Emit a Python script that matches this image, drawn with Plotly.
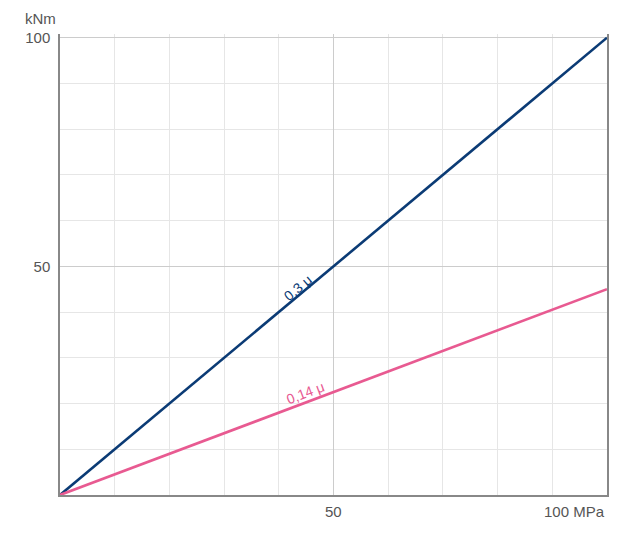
import plotly.graph_objects as go

pressure = [0, 100]
torque_03 = [0, 100]
torque_014 = [0, 45]

x_tick_vals = [50, 100]
x_tick_text = ["50", "100 MPa"]
y_tick_vals = [50, 100]
y_tick_text = ["50", "100"]
minor_vals = [10, 20, 30, 40, 60, 70, 80, 90]

BLUE = "#0b3b75"
PINK = "#e85a91"
TXT = "#555555"
FONT = "Liberation Sans, Arial, sans-serif"

fig = go.Figure()
fig.add_trace(go.Scatter(x=pressure, y=torque_03, mode="lines",
                         line=dict(color=BLUE, width=2.6), hoverinfo="skip"))
fig.add_trace(go.Scatter(x=pressure, y=torque_014, mode="lines",
                         line=dict(color=PINK, width=2.6), hoverinfo="skip"))

annotations = []
for v, t in zip(x_tick_vals, x_tick_text):
    annotations.append(dict(x=v, y=0, xref="x", yref="y", text=t, showarrow=False,
                            xanchor="center" if v != 100 else "right",
                            yanchor="top", yshift=-6,
                            font=dict(family=FONT, size=15, color=TXT)))
annotations.append(dict(x=0, y=1, xref="paper", yref="paper", text="kNm", showarrow=False,
                        xanchor="right", yanchor="bottom", xshift=-2, yshift=5,
                        font=dict(family=FONT, size=15, color=TXT)))
annotations.append(dict(x=44, y=44, xref="x", yref="y", text="0,3 μ", showarrow=False,
                        textangle=-40, xshift=-3, yshift=6,
                        font=dict(family=FONT, size=14, color=BLUE)))
annotations.append(dict(x=45, y=45 * 0.45, xref="x", yref="y", text="0,14 μ", showarrow=False,
                        textangle=-20.6, xshift=-1, yshift=9,
                        font=dict(family=FONT, size=14, color=PINK)))

fig.update_layout(
    width=640, height=533,
    margin=dict(l=52, r=41, t=26, b=46, autoexpand=False),
    plot_bgcolor="white", paper_bgcolor="white",
    showlegend=False,
    annotations=annotations,
    xaxis=dict(range=[0, 100], tickvals=x_tick_vals, showticklabels=False,
               showgrid=True, gridcolor="#cccccc", gridwidth=1,
               minor=dict(tickvals=minor_vals, showgrid=True, gridcolor="#e6e6e6", gridwidth=1),
               showline=True, linecolor="#888888", linewidth=1.5, mirror=False,
               zeroline=False, fixedrange=True, automargin=False),
    yaxis=dict(range=[0, 100.8], tickvals=y_tick_vals, ticktext=y_tick_text,
               tickfont=dict(family=FONT, size=15, color=TXT),
               ticklabelstandoff=5,
               showgrid=True, gridcolor="#cccccc", gridwidth=1,
               minor=dict(tickvals=minor_vals, showgrid=True, gridcolor="#e6e6e6", gridwidth=1),
               showline=True, linecolor="#888888", linewidth=1.5, mirror=True,
               zeroline=False, fixedrange=True, automargin=False),
)

fig.write_html("out.html")
